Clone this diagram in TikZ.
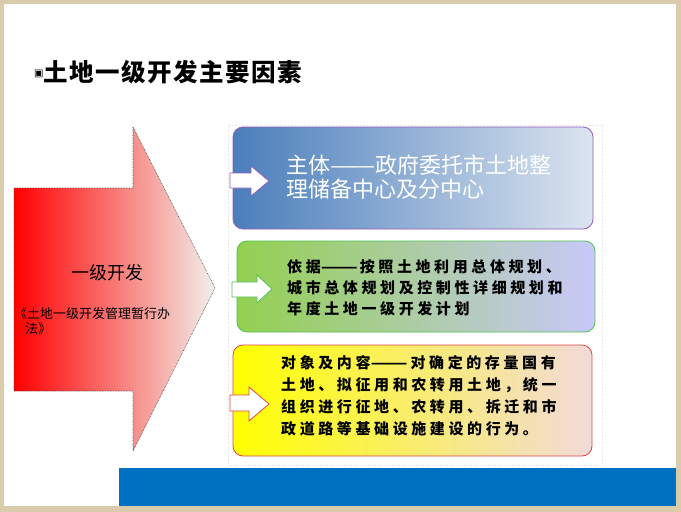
\documentclass[tikz,border=0pt]{standalone}
\usepackage{fontspec}
\setmainfont{Noto Sans CJK SC}
\newfontfamily\symfont{DejaVu Sans}
\newfontfamily\spaced{Noto Sans CJK SC}[LetterSpace=24]
\newfontfamily\titlefont{Noto Sans CJK SC}[LetterSpace=6]
\newfontfamily\dashfont{Noto Sans CJK SC}
\newcommand\longdash[1]{\resizebox{#1}{\height}{\dashfont —\kern-0.12em—}}

\definecolor{frame}{RGB}{217,203,171}
\definecolor{barblue}{RGB}{0,112,192}
\definecolor{arrowend}{RGB}{242,240,234}
\definecolor{oneleft}{RGB}{74,126,187}
\definecolor{oneright}{RGB}{220,228,240}
\definecolor{oneline}{RGB}{145,95,185}
\definecolor{twoleft}{RGB}{146,208,80}
\definecolor{tworight}{RGB}{200,200,250}
\definecolor{twoline}{RGB}{80,195,80}
\definecolor{threeleft}{RGB}{255,255,0}
\definecolor{threeright}{RGB}{242,218,218}
\definecolor{threeline}{RGB}{225,70,70}

\begin{document}
\begin{tikzpicture}[x=1pt,y=-1pt,
		box/.style={rounded corners=10pt, line width=0.8pt},
		tip/.style={fill=white, line width=0.8pt, line join=miter},
		txt/.style={inner sep=0pt, anchor=west, align=left}]
	\useasboundingbox (0,0) rectangle (681,512);
	% slide background
	\fill[frame] (0,0) rectangle (681,512);
	\fill[white] (4,4) rectangle (676,506);
	\fill[barblue] (119,468) rectangle (676,506);
	% title
	\node[inner sep=0pt, anchor=west] (title) at (34,72)
		{\raisebox{5pt}{\symfont\fontsize{10}{10}\selectfont ▣}\titlefont\fontsize{24.5}{25}\selectfont\bfseries 土地一级开发主要因素};
	% big arrow
	\draw[left color=red, right color=arrowend, draw=black!75, densely dotted, line width=0.6pt]
		(14,188) -- (133,188) -- (133,127) -- (215,288) -- (133,451) -- (133,391) -- (14,391) -- cycle;
	\node[font=\fontsize{18}{18}\selectfont] (kaifa) at (107,273) {一级开发};
	\node[txt, font=\fontsize{13}{15}\selectfont] (banfa) at (14,321.5)
		{《土地一级开发管理暂行办\\\hspace{11pt}法》};
	% group outline
	\draw[gray!25, dotted] (228,125) rectangle (602,465);
	% box 1
	\draw[box, draw=oneline, left color=oneleft, right color=oneright] (233,127) rectangle (593,229);
	\draw[tip, draw=oneline] (230,173) -- (251,173) -- (251,166) -- (269,181) -- (251,196) -- (251,188) -- (230,188) -- cycle;
	\node[txt, text=white, font=\fontsize{22}{23.5}\selectfont] (zhuti) at (286,177)
		{主体\longdash{45pt}政府委托市土地整\\理储备中心及分中心};
	% box 2
	\draw[box, draw=twoline, left color=twoleft, right color=tworight] (237,241) rectangle (595,332);
	\draw[tip, draw=twoline] (232,282) -- (257,282) -- (257,275) -- (272,289) -- (257,303) -- (257,297) -- (232,297) -- cycle;
	\node[txt, font=\spaced\bfseries\fontsize{15}{21}\selectfont] (yiju) at (287,288)
		{依据\longdash{37pt}\kern2pt 按照土地利用总体规划、\\城市总体规划及控制性详细规划和\\年度土地一级开发计划};
	% box 3
	\draw[box, draw=threeline, left color=threeleft, right color=threeright] (233,345) rectangle (592,456);
	\draw[tip, draw=threeline] (230,395) -- (249,395) -- (249,387) -- (269,404) -- (249,421) -- (249,411) -- (230,411) -- cycle;
	\node[txt, font=\spaced\bfseries\fontsize{15}{22}\selectfont] (duixiang) at (281,396)
		{对象及内容\longdash{37pt}\kern3pt 对确定的存量国有\\土地、拟征用和农转用土地，统一\\组织进行征地、农转用、拆迁和市\\政道路等基础设施建设的行为。};
\end{tikzpicture}
\end{document}
